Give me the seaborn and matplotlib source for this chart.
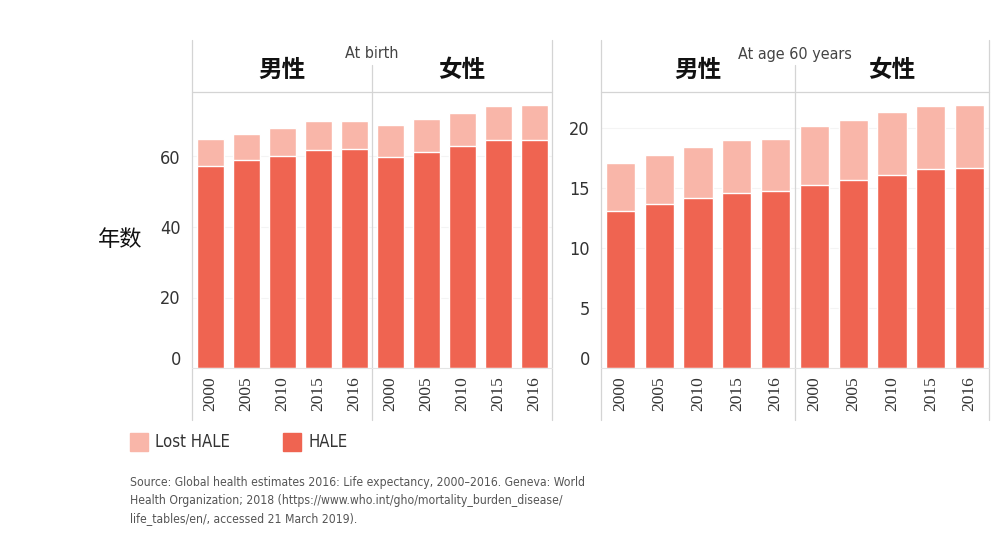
import numpy as np
import pandas as pd
import matplotlib.pyplot as plt
import matplotlib.transforms as mtrans
from matplotlib.font_manager import FontProperties
import seaborn as sns

# data
years = ['2000', '2005', '2010', '2015', '2016']
sexes = ['男性', '女性']

birth_hale_m = [57.3, 59.0, 60.1, 61.8, 62.1]
birth_le_m = [65.0, 66.4, 68.1, 70.0, 70.0]
birth_hale_f = [59.9, 61.3, 63.0, 64.7, 64.7]
birth_le_f = [68.8, 70.6, 72.3, 74.2, 74.5]

age60_hale_m = [13.1, 13.7, 14.2, 14.6, 14.75]
age60_le_m = [17.1, 17.75, 18.4, 19.0, 19.1]
age60_hale_f = [15.25, 15.7, 16.1, 16.55, 16.65]
age60_le_f = [20.2, 20.7, 21.3, 21.8, 21.9]

birth_ticks = [0, 20, 40, 60]
age60_ticks = [0, 5, 10, 15, 20]

legend_labels = ['Lost HALE', 'HALE']
source_text = ("Source: Global health estimates 2016: Life expectancy, 2000\u20132016. Geneva: World\n"
               "Health Organization; 2018 (https://www.who.int/gho/mortality_burden_disease/\n"
               "life_tables/en/, accessed 21 March 2019).")

c_hale = '#ef6451'
c_lost = '#f9b6a9'
c_line = '#d4d4d4'

sns.set_theme(style='white')
plt.rcParams['font.family'] = ['DejaVu Sans']
plt.rcParams['font.stretch'] = 'condensed'
cjk = ['Noto Sans CJK SC', 'DejaVu Sans']
year_font = FontProperties(family=['Liberation Serif', 'DejaVu Serif'], size=12.5,
                           stretch='normal')


def make_df(hm, lm, hf, lf):
    keys = [s + y for s in sexes for y in years]
    return pd.DataFrame({'key': keys,
                         'year': years * 2,
                         'hale': hm + hf,
                         'le': lm + lf})


fig = plt.figure(figsize=(10, 5.33), dpi=100)
W, H = 1000, 533


def px_axes(x0, y0, x1, y1):
    return fig.add_axes([x0 / W, 1 - y1 / H, (x1 - x0) / W, (y1 - y0) / H])


# (data, x range in px, y max, ticks, title)
panels = [
    (make_df(birth_hale_m, birth_le_m, birth_hale_f, birth_le_f),
     (192, 552), 276 / 3.525, birth_ticks, 'At birth'),
    (make_df(age60_hale_m, age60_le_m, age60_hale_f, age60_le_f),
     (601, 989), 276 / 12.0, age60_ticks, 'At age 60 years'),
]

for df, (x0, x1), ytop, ticks, title in panels:
    ax = px_axes(x0, 92, x1, 368)
    sns.barplot(data=df, x='key', y='le', color=c_lost, width=0.75,
                saturation=1, ax=ax)
    sns.barplot(data=df, x='key', y='hale', color=c_hale, width=0.75,
                saturation=1, ax=ax)
    ax.set_xlim(-0.5, 9.5)
    ax.set_ylim(0, ytop)
    ax.set_xlabel('')
    ax.set_ylabel('')
    for s in ax.spines.values():
        s.set_visible(False)
    ax.set_yticks(ticks)
    ax.set_yticklabels([str(t) for t in ticks])
    ax.tick_params(axis='y', length=0, pad=8, labelsize=13, labelcolor='#333333')
    ax.tick_params(axis='x', length=0, pad=6)
    ax.set_xticks(range(10))
    ax.set_xticklabels(df['year'], rotation=90, color='#333333',
                       fontproperties=year_font)
    # the zero label sits a bit higher in the original
    zl = ax.get_yticklabels()[0]
    zl.set_transform(zl.get_transform() + mtrans.ScaledTranslation(0, 10 / 100, fig.dpi_scale_trans))
    for t in ticks[1:]:
        ax.axhline(t, color='#f4f4f4', lw=0.8, zorder=0)

    # frame lines: header, spines, divider
    kw = dict(color=c_line, lw=0.9, clip_on=False)
    ax.axvline(-0.5, ymin=-52 / 276, ymax=1 + 52 / 276, **kw)
    ax.axvline(9.5, ymin=-52 / 276, ymax=1 + 52 / 276, **kw)
    ax.axvline(4.5, ymin=-52 / 276, ymax=1 + 27 / 276, **kw)
    ax.axhline(ytop, **kw)
    ax.axhline(0, color='#e4e4e4', lw=0.8, clip_on=False)

    ax.text(0.5, 1 + 38 / 276, title, transform=ax.transAxes, ha='center',
            va='center', fontsize=11.5, color='#444444')
    ax.text(0.25, 1 + 22 / 276, sexes[0], transform=ax.transAxes, ha='center',
            va='center', fontsize=17, family=cjk, fontweight='bold', color='#111111')
    ax.text(0.75, 1 + 22 / 276, sexes[1], transform=ax.transAxes, ha='center',
            va='center', fontsize=17, family=cjk, fontweight='bold', color='#111111')

fig.text(120 / W, 1 - 240 / H, '年数', ha='center', va='center', fontsize=16,
         family=cjk, color='#111111')

# legend
for (lx, tx), lab, col in zip([(130, 155), (283, 308)], legend_labels, [c_lost, c_hale]):
    fig.patches.append(plt.Rectangle((lx / W, 1 - 451 / H), 18 / W, 18 / H,
                                     transform=fig.transFigure, color=col))
    fig.text(tx / W, 1 - 442 / H, lab, ha='left', va='center', fontsize=12,
             color='#333333')

fig.text(130 / W, 1 - 476 / H, source_text, ha='left', va='top', fontsize=8.7,
         color='#555555', linespacing=1.5)

fig.savefig('out.png', dpi=100, facecolor='white')
